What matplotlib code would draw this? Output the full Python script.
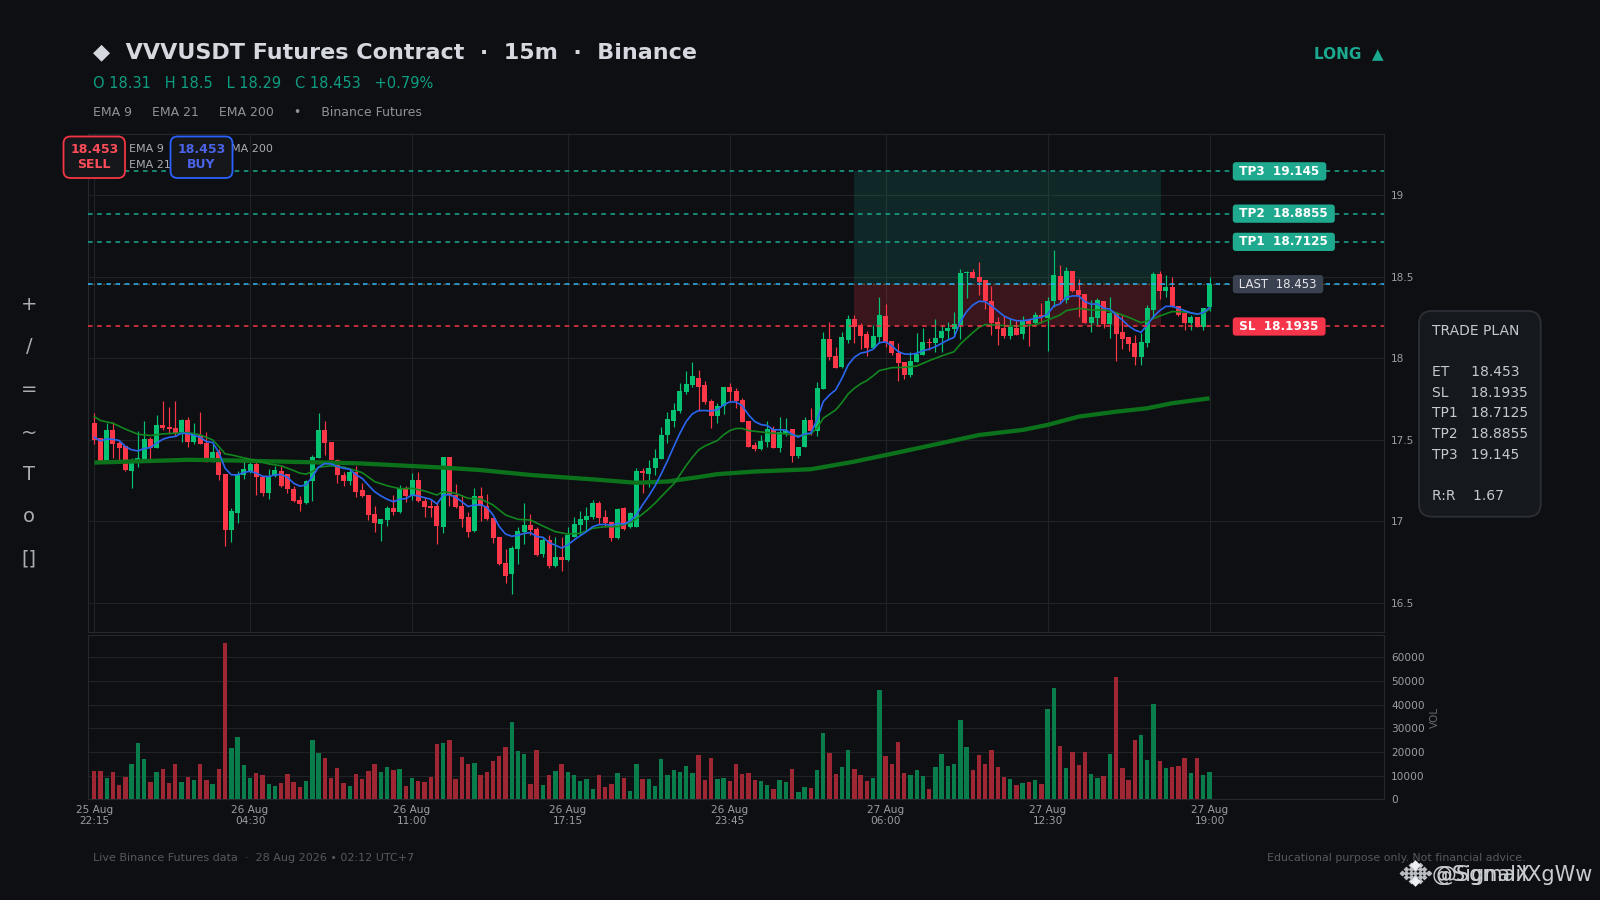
import matplotlib
matplotlib.use("Agg")
import matplotlib.pyplot as plt
from matplotlib.patches import FancyBboxPatch

# ---------- data ----------
opens = [17.60,17.51,17.37,17.56,17.48,17.46,17.31,17.37,17.38,17.505,
17.45,17.59,17.578,17.57,17.545,17.62,17.485,17.53,17.48,17.39,
17.425,17.29,16.945,17.05,17.285,17.31,17.35,17.27,17.173,17.277,
17.31,17.29,17.197,17.13,17.11,17.243,17.388,17.56,17.488,17.375,
17.284,17.247,17.304,17.19,17.16,17.044,16.982,17.007,17.08,17.056,
17.197,17.154,17.252,17.123,17.093,17.093,16.966,17.395,17.16,17.093,
17.023,16.94,17.154,17.093,17.019,16.90,16.741,16.676,16.829,16.935,
16.976,16.952,16.796,16.884,16.725,16.782,16.762,16.905,16.976,17.007,
17.027,17.11,17.023,16.996,16.895,17.082,16.965,16.966,17.308,17.29,
17.325,17.38,17.529,17.615,17.676,17.79,17.835,17.878,17.835,17.737,
17.645,17.707,17.823,17.80,17.743,17.615,17.468,17.443,17.486,17.562,
17.449,17.54,17.566,17.40,17.455,17.621,17.553,17.81,18.117,18.013,
17.945,18.111,18.24,18.203,18.148,18.06,18.13,18.258,18.105,18.033,
17.978,17.896,17.978,18.019,18.101,18.09,18.121,18.166,18.178,18.203,
18.522,18.528,18.499,18.479,18.35,18.219,18.186,18.137,18.184,18.146,
18.234,18.213,18.264,18.248,18.35,18.503,18.356,18.534,18.417,18.393,
18.213,18.248,18.35,18.209,18.274,18.16,18.129,18.092,18.009,18.095,
18.295,18.513,18.411,18.436,18.319,18.278,18.217,18.25,18.193,18.31]
closes = [17.50,17.37,17.56,17.475,17.45,17.315,17.375,17.385,17.505,17.45,
17.59,17.57,17.565,17.54,17.62,17.485,17.53,17.475,17.39,17.425,
17.28,16.945,17.065,17.285,17.32,17.35,17.27,17.17,17.273,17.315,
17.215,17.195,17.125,17.105,17.247,17.392,17.56,17.478,17.375,17.284,
17.247,17.30,17.18,17.154,17.037,16.99,17.013,17.08,17.056,17.197,
17.156,17.252,17.123,17.087,17.083,16.97,17.395,17.16,17.085,17.013,
16.935,17.154,17.09,17.013,16.899,16.737,16.666,16.835,16.939,16.976,
16.943,16.792,16.884,16.725,16.782,16.762,16.915,16.982,17.013,17.031,
17.11,17.017,16.986,16.895,17.074,16.95,17.048,17.308,17.292,17.327,
17.388,17.529,17.627,17.682,17.799,17.842,17.887,17.823,17.729,17.645,
17.707,17.823,17.793,17.737,17.609,17.455,17.443,17.49,17.566,17.449,
17.547,17.56,17.402,17.455,17.621,17.553,17.815,18.117,18.009,17.938,
18.13,18.24,18.193,18.138,18.06,18.136,18.265,18.101,18.029,17.968,
17.896,17.984,18.023,18.101,18.092,18.125,18.166,18.186,18.209,18.524,
18.526,18.491,18.469,18.35,18.217,18.178,18.135,18.189,18.141,18.227,
18.209,18.264,18.25,18.35,18.509,18.356,18.534,18.413,18.387,18.217,
18.25,18.356,18.209,18.274,18.148,18.117,18.086,18.009,18.099,18.305,
18.513,18.413,18.436,18.319,18.264,18.217,18.25,18.189,18.305,18.453]
highs = [17.66,17.51,17.60,17.61,17.50,17.46,17.385,17.55,17.615,17.515,
17.65,17.735,17.70,17.735,17.625,17.64,17.60,17.67,17.545,17.47,
17.445,17.29,17.08,17.305,17.38,17.375,17.375,17.27,17.32,17.34,
17.34,17.29,17.216,17.155,17.253,17.408,17.66,17.617,17.488,17.38,
17.30,17.32,17.34,17.236,17.16,17.093,17.013,17.095,17.162,17.224,
17.217,17.293,17.303,17.15,17.135,17.109,17.395,17.395,17.226,17.16,
17.054,17.205,17.21,17.166,17.019,16.90,16.827,16.848,16.962,17.109,
17.042,16.966,16.90,16.917,16.90,16.90,16.966,17.023,17.064,17.085,
17.13,17.123,17.068,16.996,17.08,17.086,17.058,17.328,17.325,17.372,
17.443,17.576,17.672,17.723,17.846,17.923,17.974,17.927,17.862,17.75,
17.727,17.823,17.846,17.815,17.754,17.615,17.488,17.529,17.617,17.584,
17.641,17.635,17.566,17.455,17.641,17.692,17.852,18.162,18.224,18.066,
18.162,18.265,18.265,18.214,18.163,18.203,18.373,18.332,18.105,18.09,
17.978,18.039,18.152,18.182,18.121,18.24,18.203,18.223,18.285,18.544,
18.534,18.544,18.591,18.479,18.444,18.25,18.258,18.244,18.234,18.258,
18.234,18.285,18.34,18.377,18.663,18.571,18.556,18.534,18.483,18.393,
18.356,18.366,18.35,18.372,18.274,18.264,18.129,18.142,18.152,18.325,
18.53,18.536,18.509,18.499,18.319,18.278,18.264,18.25,18.309,18.5]
lows = [17.47,17.365,17.365,17.39,17.375,17.305,17.20,17.33,17.375,17.38,
17.45,17.56,17.54,17.52,17.485,17.455,17.475,17.47,17.36,17.365,
17.255,16.85,16.87,16.99,17.257,17.295,17.16,17.157,17.135,17.27,
17.21,17.175,17.12,17.065,17.105,17.126,17.384,17.406,17.375,17.235,
17.218,17.222,17.147,17.15,17.007,16.935,16.88,16.972,17.038,17.052,
17.12,17.13,17.12,17.027,17.023,16.858,16.925,17.093,17.078,16.966,
16.90,16.935,17.0,17.007,16.864,16.731,16.619,16.553,16.737,16.86,
16.915,16.788,16.782,16.71,16.717,16.696,16.758,16.90,16.915,16.939,
17.013,16.982,16.966,16.88,16.893,16.945,16.96,16.962,17.175,17.212,
17.28,17.378,17.482,17.58,17.662,17.78,17.825,17.678,17.717,17.57,
17.60,17.655,17.733,17.692,17.609,17.455,17.427,17.439,17.457,17.449,
17.423,17.525,17.361,17.39,17.455,17.529,17.525,17.811,17.989,17.938,
17.938,18.09,18.091,18.054,18.013,18.054,18.091,18.07,18.019,17.86,
17.87,17.882,17.978,18.019,18.05,18.039,18.039,18.111,18.131,18.115,
18.366,18.489,18.387,18.299,18.142,18.08,18.121,18.117,18.141,18.115,
18.074,18.203,18.213,18.045,18.315,18.336,18.336,18.407,18.254,18.213,
18.162,18.203,18.182,18.121,17.982,18.056,18.045,17.958,17.958,18.07,
18.244,18.36,18.372,18.315,18.258,18.172,18.172,18.189,18.172,18.29]
volumes = [12000,12000,9000,11600,6100,9600,15000,23800,17000,7300,
11600,12800,6900,15000,7300,9500,8200,15000,8200,6500,
12800,66000,21700,26400,14500,9000,11100,10300,6500,5600,
6900,10700,7300,5200,7800,25100,19600,17500,9000,13300,
6900,5600,10700,8600,12000,15000,11600,13700,12400,12800,
5600,9000,7800,7300,9600,23400,23800,25100,8600,17900,
15000,15400,10300,11600,16200,18300,22100,32700,20400,19200,
6500,20900,6100,10300,12000,15000,11600,10300,7800,8600,
4400,10300,5200,6500,11100,9000,3500,15000,8600,8600,
5600,17000,10300,12400,11600,14100,11100,18800,8200,17500,
8600,9000,7800,15000,10700,11100,8200,7800,6100,4400,
8200,7300,12800,3100,5200,4800,12400,28000,19600,10700,
13700,20900,12800,10300,7800,9000,46200,18300,15000,24300,
11100,10300,12400,9700,4400,13700,19200,14100,15000,33600,
22100,12400,18800,15000,20900,13700,9500,8600,6100,6900,
7300,8200,6500,38200,47100,22600,13300,19900,14500,19900,
10700,9000,9700,19200,51700,13300,8200,25100,27200,16600,
40200,16200,13300,13700,14100,17500,11100,17500,10300,11600]
ema9 = [17.514,17.492,17.504,17.502,17.494,17.457,17.437,17.431,17.445,17.451,
17.478,17.502,17.514,17.519,17.539,17.537,17.527,17.514,17.488,17.482,
17.42,17.324,17.284,17.284,17.298,17.306,17.294,17.275,17.273,17.284,
17.286,17.269,17.232,17.214,17.222,17.273,17.331,17.353,17.351,17.335,
17.324,17.318,17.284,17.262,17.22,17.18,17.155,17.134,17.119,17.134,
17.138,17.16,17.154,17.144,17.134,17.105,17.16,17.162,17.146,17.119,
17.089,17.099,17.101,17.085,17.038,16.966,16.921,16.907,16.913,16.925,
16.929,16.905,16.901,16.868,16.852,16.835,16.854,16.884,16.911,16.935,
16.966,16.978,16.98,16.974,16.986,16.982,17.0,17.038,17.1,17.155,
17.216,17.29,17.37,17.457,17.539,17.611,17.658,17.678,17.678,17.676,
17.682,17.713,17.731,17.731,17.707,17.652,17.611,17.592,17.586,17.56,
17.56,17.558,17.533,17.515,17.535,17.539,17.621,17.733,17.774,17.805,
17.876,17.958,18.005,18.03,18.038,18.054,18.095,18.099,18.076,18.04,
18.025,18.023,18.029,18.045,18.054,18.07,18.09,18.111,18.127,18.223,
18.285,18.325,18.348,18.346,18.319,18.289,18.258,18.24,18.229,18.229,
18.234,18.244,18.25,18.27,18.319,18.332,18.372,18.381,18.381,18.346,
18.33,18.332,18.305,18.301,18.264,18.234,18.197,18.172,18.158,18.203,
18.254,18.291,18.317,18.317,18.305,18.291,18.278,18.27,18.278,18.309]
ema21_idx = [0,1,3,5,7,9,11,13,15,17,19,20,21,22,24,26,28,30,32,33,34,35,36,38,40,42,
43,45,47,49,51,53,55,56,58,60,62,64,66,68,70,72,74,76,78,80,82,84,86,87,88,89,90,91,92,93,94,95,96,97,98,
100,101,102,103,104,105,107,109,111,113,115,116,117,119,120,121,122,123,124,125,126,128,130,132,134,136,138,
139,141,142,143,145,147,149,151,153,155,156,158,160,162,164,166,168,169,171,173,175,177,178,179]
ema21 = [17.641,17.617,17.60,17.564,17.533,17.525,17.535,17.539,17.543,17.529,17.498,17.457,17.412,17.406,17.388,17.371,17.351,17.339,17.31,17.294,17.288,17.304,17.331,17.339,17.331,17.31,
17.297,17.242,17.217,17.199,17.201,17.185,17.16,17.181,17.17,17.14,17.136,17.099,17.038,17.011,17.007,16.97,16.935,16.921,16.925,16.956,16.966,16.966,16.99,17.014,17.044,17.075,17.11,17.15,17.19,17.228,17.284,17.341,17.392,17.437,17.461,
17.494,17.529,17.555,17.568,17.568,17.555,17.547,17.539,17.535,17.523,17.535,17.57,17.631,17.682,17.727,17.78,17.815,17.842,17.862,17.891,17.923,17.941,17.943,17.951,17.984,18.013,18.039,
18.086,18.156,18.188,18.205,18.201,18.197,18.197,18.203,18.233,18.264,18.291,18.305,18.295,18.295,18.278,18.25,18.217,18.227,18.258,18.285,18.283,18.27,18.274,18.299]
ema200_idx = [0,10,15,21,30,42,56,62,70,80,87,92,97,100,106,115,122,129,142,149,153,158,164,169,173,179]
ema200 = [17.359,17.37,17.376,17.373,17.365,17.355,17.328,17.313,17.283,17.256,17.235,17.243,17.27,17.288,17.304,17.318,17.365,17.421,17.528,17.559,17.59,17.641,17.671,17.692,17.723,17.753]
price_ticks = [16.5,17,17.5,18,18.5,19]
price_tick_labels = ['16.5','17','17.5','18','18.5','19']
vol_ticks = [0,10000,20000,30000,40000,50000,60000]
time_ticks = [0,25,51,76,102,127,153,179]
time_labels = ['25 Aug\n22:15','26 Aug\n04:30','26 Aug\n11:00','26 Aug\n17:15','26 Aug\n23:45','27 Aug\n06:00','27 Aug\n12:30','27 Aug\n19:00']
levels = [('TP3',19.145,'19.145'),('TP2',18.8855,'18.8855'),('TP1',18.7125,'18.7125')]
entry = 18.453
stop = 18.1935
zone_start, zone_end = 122, 171.2
tools = ['+','/','=','~','T','o','[]']

BG='#0d0f12'; GRID='#202226'; UP='#05c172'; DN='#fb3748'; TICK='#9a9da3'
TEAL='#1ba98f'
W,H=1600,900
plt.rcParams['font.family']='DejaVu Sans'
fig=plt.figure(figsize=(16,9),dpi=100,facecolor=BG)
def rect(l,t,r,b): return [l/W,1-b/H,(r-l)/W,(b-t)/H]
ax=fig.add_axes(rect(88,133.5,1384,632),facecolor=BG)
av=fig.add_axes(rect(88,635,1384,799.3),facecolor=BG)
xlim=(-1.01,207)
for a in (ax,av):
    a.set_xlim(*xlim)
    for s in a.spines.values():
        s.set_color('#26282d'); s.set_linewidth(0.8)
    a.yaxis.tick_right()
    a.tick_params(axis='y',length=0,colors=TICK,labelsize=7.6,pad=5)
    a.set_axisbelow(True)
ax.set_ylim(16.32,19.377)
av.set_ylim(0,69400)
ax.set_yticks(price_ticks); ax.set_yticklabels(price_tick_labels)
ax.set_xticks(time_ticks); ax.set_xticklabels([])
ax.tick_params(axis='x',length=0)
ax.grid(True,color=GRID,lw=0.8)
av.set_yticks(vol_ticks); av.set_yticklabels([str(v) for v in vol_ticks])
av.set_xticks(time_ticks); av.set_xticklabels(time_labels,color=TICK,fontsize=7.6,linespacing=1.15)
av.tick_params(axis='x',length=0,pad=4)
av.grid(True,axis='y',color=GRID,lw=0.8)
av.set_ylabel('VOL',color='#65686e',fontsize=7.6,rotation=90,labelpad=4)
av.yaxis.set_label_position('right')

# zones
ax.fill_between([zone_start,zone_end],entry,levels[0][1],color='#1ba98f',alpha=0.17,lw=0,zorder=1)
ax.fill_between([zone_start,zone_end],stop,entry,color='#f23645',alpha=0.20,lw=0,zorder=1)

# candles
xs=list(range(len(opens)))
cols=[UP if c>=o else DN for o,c in zip(opens,closes)]
ax.vlines(xs,lows,highs,colors=cols,lw=0.85,zorder=3)
ax.bar(xs,[abs(c-o) for o,c in zip(opens,closes)],bottom=[min(o,c) for o,c in zip(opens,closes)],
       width=0.8,color=cols,lw=0,zorder=3)
# emas
ax.plot(ema200_idx,ema200,color='#0b711b',lw=3.1,zorder=4,solid_capstyle='butt')
ax.plot(ema21_idx,ema21,color='#12861f',lw=1.2,zorder=5)
ax.plot(xs,ema9,color='#2a66f0',lw=1.2,zorder=6)

# levels
lab_x=183.15
for name,val,txt in levels:
    ax.axhline(val,color=TEAL,lw=1.1,ls=(0,(3,3)),zorder=7)
    ax.text(lab_x,val,f' {name}  {txt} ',color='white',fontsize=8.65,fontweight='bold',va='center',ha='left',zorder=9,
            bbox=dict(boxstyle='round,pad=0.22,rounding_size=0.25',fc='#1fa98f',ec='none'))
ax.axhline(entry,color='#c98a2a',lw=0.9,ls=(0,(1,3)),alpha=0.7,zorder=7)
ax.axhline(entry,color='#29b6f6',lw=1.1,ls=(0,(3,3)),zorder=7)
ax.text(lab_x,entry,f' LAST  {entry} ',color='#e4e6ea',fontsize=8.5,va='center',ha='left',zorder=9,
        bbox=dict(boxstyle='round,pad=0.22,rounding_size=0.25',fc='#3a4150',ec='none'))
ax.axhline(stop,color='#f23645',lw=1.1,ls=(0,(3,3)),zorder=7)
ax.text(lab_x,stop,f' SL  {stop} ',color='white',fontsize=8.65,fontweight='bold',va='center',ha='left',zorder=9,
        bbox=dict(boxstyle='round,pad=0.22,rounding_size=0.25',fc='#f6344a',ec='none'))

# volume
vcols=['#0a7d4d' if c>=o else '#9e2733' for o,c in zip(opens,closes)]
av.bar(xs,volumes,width=0.7,color=vcols,lw=0,zorder=3)

# overlay in pixel units
ov=fig.add_axes([0,0,1,1],facecolor='none')
ov.set_xlim(0,W); ov.set_ylim(H,0); ov.axis('off')
ov.text(93,52,'◆  VVVUSDT Futures Contract  ·  15m  ·  Binance',color='#d5d8de',fontsize=16,fontweight='bold',va='center')
ov.text(93,83,'O 18.31   H 18.5   L 18.29   C 18.453   +0.79%',color='#0f9d82',fontsize=10.5,va='center')
ov.text(93,112,'EMA 9     EMA 21     EMA 200     •     Binance Futures',color='#8f9298',fontsize=9,va='center')
ov.text(1384,54,'LONG  ▲',color=TEAL,fontsize=11,fontweight='bold',va='center',ha='right')
leg_c='#a9acb2'
ov.text(129,148.5,'EMA 9',color=leg_c,fontsize=8,va='center')
ov.text(129,164.5,'EMA 21',color=leg_c,fontsize=8,va='center')
ov.text(224,148.5,'EMA 200',color=leg_c,fontsize=8,va='center')
def badge(x0,x1,ec,tc,a,b):
    ov.add_patch(FancyBboxPatch((x0,136.5),x1-x0,41.5,boxstyle='round,pad=0,rounding_size=7',fc='#15171b',ec=ec,lw=1.3,zorder=5))
    ov.text((x0+x1)/2,157,f'{a}\n{b}',color=tc,fontsize=9,fontweight='bold',ha='center',va='center',linespacing=1.15,zorder=6)
badge(63.5,125,'#f23645','#ff4d5a','18.453','SELL')
badge(170.5,232.5,'#2962ff','#4a63e7','18.453','BUY')
for y,t in zip([304,346,389,433,475,517,559],tools):
    ov.text(29,y,t,color='#a9acb2',fontsize=14,ha='center',va='center')
ov.add_patch(FancyBboxPatch((1419,311),121.7,205.7,boxstyle='round,pad=0,rounding_size=13',fc='#15181d',ec='#2c2f35',lw=1.3,zorder=5))
ov.text(1432,324,'TRADE PLAN\n\nET     18.453\nSL     18.1935\nTP1   18.7125\nTP2   18.8855\nTP3   19.145\n\nR:R    1.67',
        color='#c5c8ce',fontsize=10,va='top',ha='left',linespacing=1.6,zorder=6)
ov.text(93,858,'Live Binance Futures data  ·  28 Aug 2026 • 02:12 UTC+7',color='#55585e',fontsize=8,va='center')
ov.text(1525.5,858,'Educational purpose only. Not financial advice.',color='#55585e',fontsize=7.95,va='center',ha='right')
# watermark
ov.text(1432,875,'@SignalX',color='#c8cbd0',fontsize=15,va='center',zorder=7)
ov.text(1436,875,'@SgmailXgWw',color='#c8cbd0',fontsize=15,va='center',zorder=7)
gx=[];gy=[]
for dy,half in zip([-8,-4,0,4,8],[1,2,3,2,1]):
    for k in range(-half,half+1):
        gx.append(1415+k*4.5);gy.append(873+dy)
ov.scatter(gx,gy,s=9,marker='D',color='#b9bcc2',lw=0,zorder=7)
ov.scatter([1415,1415],[865,881],s=30,marker='D',color='#eceef1',lw=0,zorder=8)
ov.scatter([1402,1428],[873,873],s=8,marker='D',color='#b9bcc2',lw=0,zorder=7)
fig.savefig('out.png',dpi=100,facecolor=BG)
